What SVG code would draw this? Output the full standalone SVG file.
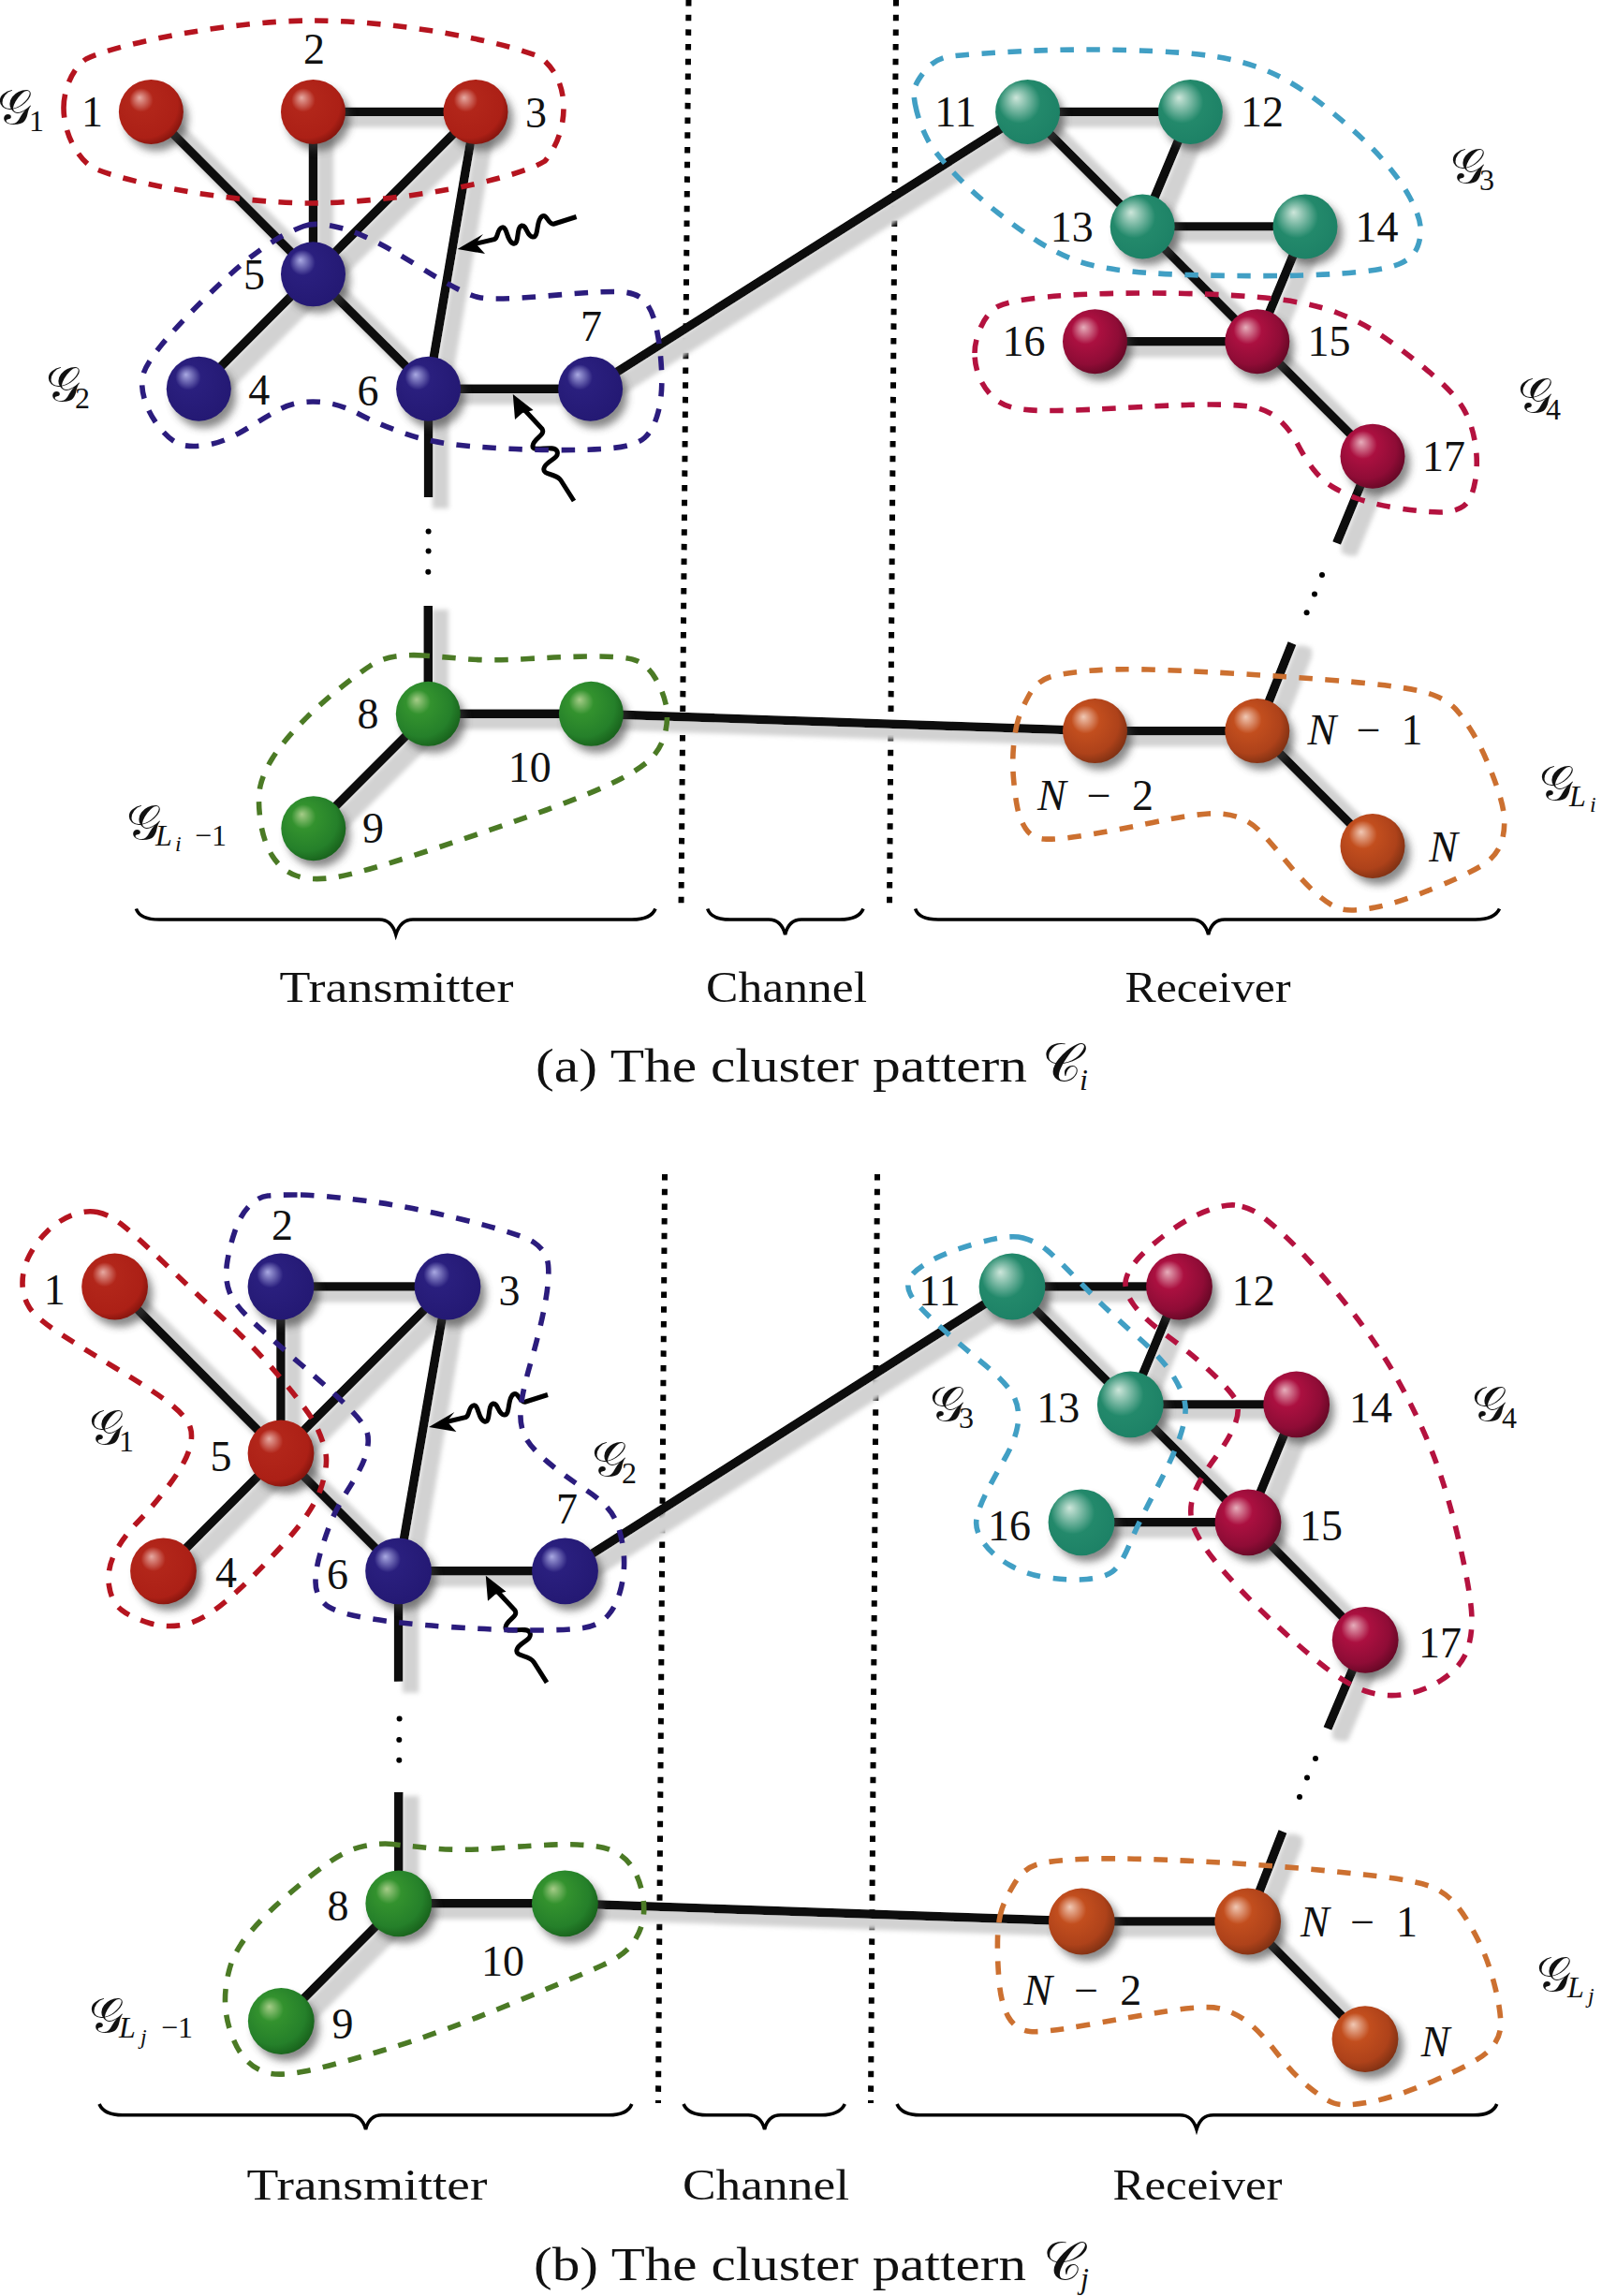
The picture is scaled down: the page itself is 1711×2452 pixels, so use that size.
<svg xmlns="http://www.w3.org/2000/svg" width="1711" height="2452" viewBox="0 0 1711 2452">
<style>
text{font-family:"Liberation Serif","DejaVu Serif",serif;fill:#111}
.n{font-size:46px;text-anchor:middle}
.l{font-size:47px;text-anchor:middle}
.cap{font-size:50px}
.g{font-size:52px;font-family:"DejaVu Sans","Noto Sans",serif}
.cg{font-size:58px;font-family:"DejaVu Sans","Noto Sans",serif}
.s{font-size:32px;font-family:"Liberation Serif",serif}
.ss{font-size:24px;font-style:italic;font-family:"Liberation Serif",serif}
.i{font-style:italic}
.edge line{stroke:#070707;stroke-width:9.4;stroke-linecap:butt}
.dot{stroke:#000;stroke-width:6;stroke-dasharray:6.5 9.2;fill:none}
.cl{fill:none;stroke-width:5.6;stroke-dasharray:14.5 13.5}
.wave{fill:none;stroke:#000;stroke-width:5}
.brace{fill:none;stroke:#000;stroke-width:3.6}
.sh{fill:#3a3a3a;opacity:.6;filter:url(#nsh)}
.d{fill:#000}
.red{fill:url(#gRed)}.navy{fill:url(#gNavy)}.teal{fill:url(#gTeal)}.crim{fill:url(#gCrim)}.green{fill:url(#gGreen)}.orange{fill:url(#gOrange)}
</style>
<defs>
<filter id="nsh" x="-40%" y="-40%" width="180%" height="180%"><feGaussianBlur stdDeviation="4"/></filter>
<filter id="esh" filterUnits="userSpaceOnUse" x="0" y="0" width="1711" height="2452">
<feMorphology in="SourceAlpha" operator="dilate" radius="4"/>
<feOffset dx="13" dy="8"/>
<feGaussianBlur stdDeviation="2.5" result="b"/>
<feFlood flood-color="#d2d2d2"/>
<feComposite in2="b" operator="in"/>
<feMerge><feMergeNode/><feMergeNode in="SourceGraphic"/></feMerge>
</filter>
<radialGradient id="gRed" cx=".42" cy=".42" r=".66" fx=".32" fy=".28"><stop offset="0" stop-color="#e6aaa2"/><stop offset=".28" stop-color="#b2261a"/><stop offset=".78" stop-color="#ac2016"/><stop offset="1" stop-color="#76100a"/></radialGradient>
<radialGradient id="gNavy" cx=".42" cy=".42" r=".66" fx=".3" fy=".28"><stop offset="0" stop-color="#a9a9e2"/><stop offset=".3" stop-color="#2a1f7e"/><stop offset="1" stop-color="#231872"/></radialGradient>
<radialGradient id="gTeal" cx=".42" cy=".42" r=".66" fx=".32" fy=".28"><stop offset="0" stop-color="#cde6da"/><stop offset=".5" stop-color="#23896b"/><stop offset="1" stop-color="#1c8065"/></radialGradient>
<radialGradient id="gCrim" cx=".42" cy=".42" r=".68" fx=".32" fy=".28"><stop offset="0" stop-color="#e6aebb"/><stop offset=".32" stop-color="#ab1040"/><stop offset=".7" stop-color="#8f0c36"/><stop offset="1" stop-color="#56061f"/></radialGradient>
<radialGradient id="gGreen" cx=".42" cy=".42" r=".68" fx=".32" fy=".28"><stop offset="0" stop-color="#a6cc88"/><stop offset=".28" stop-color="#33922e"/><stop offset=".7" stop-color="#25802a"/><stop offset="1" stop-color="#135616"/></radialGradient>
<radialGradient id="gOrange" cx=".42" cy=".42" r=".68" fx=".32" fy=".28"><stop offset="0" stop-color="#f0c8b4"/><stop offset=".32" stop-color="#c24e1e"/><stop offset=".7" stop-color="#ae421a"/><stop offset="1" stop-color="#6e2a10"/></radialGradient>
<g id="w1"><path class="wave" d="M615.6,231.5 L592,239 C585,241 585,228 579,231 C572,235 576,254 569,253 C562,252 563,240 557,241 C551,243 555,262 548,260 C541,258 542,241 536,243 C530,245 533,256 526,256 L505,261"/><polygon class="d" points="488.6,266 516,250 508,260 518,271"/></g>
<g id="w2"><path class="wave" d="M613,535 L599,513 C594,505 579,508 581,500 C583,492 598,490 595,482 C592,474 568,484 569,476 C570,468 583,465 579,458 L553,430"/><polygon class="d" points="547.8,421 569.6,438 558,441 550,448"/></g>
</defs>
<rect width="1711" height="2452" fill="#fff"/>

<g id="separators">
<line class="dot" x1="735.5" y1="0" x2="727.5" y2="969"/>
<line class="dot" x1="957" y1="0" x2="950" y2="969"/>
<line class="dot" x1="710" y1="1254" x2="703" y2="2246"/>
<line class="dot" x1="937" y1="1254" x2="930" y2="2246"/>
</g>

<g id="connectors">
<g class="edge" filter="url(#esh)">
<line x1="161.4" y1="119.4" x2="334.5" y2="292.8"/>
<line x1="334.5" y1="119.4" x2="334.5" y2="292.8"/>
<line x1="508" y1="119.4" x2="334.5" y2="292.8"/>
<line x1="212.3" y1="415.2" x2="334.5" y2="292.8"/>
<line x1="334.5" y1="292.8" x2="457.6" y2="415.2"/>
<line x1="508" y1="119.4" x2="457.6" y2="415.2"/>
<line x1="334.5" y1="119.4" x2="508" y2="119.4"/>
<line x1="457.6" y1="415.2" x2="630.6" y2="415.2"/>
<line x1="630.6" y1="415.2" x2="1097.6" y2="119.4"/>
<line x1="457.6" y1="415.2" x2="457.6" y2="531"/>
<line x1="457.3" y1="647" x2="457.3" y2="762.3"/>
<line x1="457.3" y1="762.3" x2="631.4" y2="762.3"/>
<line x1="457.3" y1="762.3" x2="334.8" y2="884.7"/>
<line x1="631.4" y1="762.3" x2="1169.5" y2="780.6"/>
<line x1="1169.5" y1="780.6" x2="1342.8" y2="780.6"/>
<line x1="1342.8" y1="780.6" x2="1466" y2="903.5"/>
<line x1="1342.8" y1="780.6" x2="1380" y2="687"/>
<line x1="1097.6" y1="119.4" x2="1271.4" y2="119.4"/>
<line x1="1097.6" y1="119.4" x2="1220.2" y2="241.9"/>
<line x1="1271.4" y1="119.4" x2="1220.2" y2="241.9"/>
<line x1="1220.2" y1="241.9" x2="1394" y2="241.9"/>
<line x1="1220.2" y1="241.9" x2="1342.8" y2="364.7"/>
<line x1="1394" y1="241.9" x2="1342.8" y2="364.7"/>
<line x1="1169.5" y1="364.7" x2="1342.8" y2="364.7"/>
<line x1="1342.8" y1="364.7" x2="1466" y2="487.2"/>
<line x1="1466" y1="487.2" x2="1427.7" y2="580"/>

<line x1="122.6" y1="1374" x2="300" y2="1552"/>
<line x1="300" y1="1374" x2="300" y2="1552"/>
<line x1="478" y1="1374" x2="300" y2="1552"/>
<line x1="174.5" y1="1677.8" x2="300" y2="1552"/>
<line x1="300" y1="1552" x2="425.6" y2="1677.8"/>
<line x1="478" y1="1374" x2="425.6" y2="1677.8"/>
<line x1="300" y1="1374" x2="478" y2="1374"/>
<line x1="425.6" y1="1677.8" x2="603.5" y2="1677.8"/>
<line x1="603.5" y1="1677.8" x2="1081" y2="1374"/>
<line x1="425.6" y1="1677.8" x2="425.6" y2="1795.7"/>
<line x1="425.8" y1="1914" x2="425.8" y2="2032.8"/>
<line x1="425.8" y1="2032.8" x2="603.4" y2="2032.8"/>
<line x1="425.8" y1="2032.8" x2="300.3" y2="2158.5"/>
<line x1="603.4" y1="2032.8" x2="1155.3" y2="2052"/>
<line x1="1155.3" y1="2052" x2="1332.7" y2="2052"/>
<line x1="1332.7" y1="2052" x2="1458" y2="2177.6"/>
<line x1="1332.7" y1="2052" x2="1370" y2="1956"/>
<line x1="1081" y1="1374" x2="1259.5" y2="1374"/>
<line x1="1081" y1="1374" x2="1207.3" y2="1499.9"/>
<line x1="1259.5" y1="1374" x2="1207.3" y2="1499.9"/>
<line x1="1207.3" y1="1499.9" x2="1384.7" y2="1499.9"/>
<line x1="1207.3" y1="1499.9" x2="1333" y2="1625.8"/>
<line x1="1384.7" y1="1499.9" x2="1333" y2="1625.8"/>
<line x1="1155" y1="1625.8" x2="1333" y2="1625.8"/>
<line x1="1333" y1="1625.8" x2="1458.2" y2="1751.3"/>
<line x1="1458.2" y1="1751.3" x2="1418" y2="1846"/>
</g>
<use href="#w1"/>
<use href="#w2"/>
<use href="#w1" transform="translate(-30.6,1258)"/>
<use href="#w2" transform="translate(-29,1261.8)"/>
<g id="ellipses">
<circle class="d" cx="457.6" cy="567.5" r="3"/><circle class="d" cx="457.6" cy="588.6" r="3"/><circle class="d" cx="457.3" cy="610.7" r="3"/>
<circle class="d" cx="1412" cy="614" r="3"/><circle class="d" cx="1404" cy="634.4" r="3"/><circle class="d" cx="1395.6" cy="654.3" r="3"/>
<circle class="d" cx="426.6" cy="1835.5" r="3"/><circle class="d" cx="426.3" cy="1858" r="3"/><circle class="d" cx="426.3" cy="1879.8" r="3"/>
<circle class="d" cx="1405" cy="1878" r="3"/><circle class="d" cx="1396" cy="1898.5" r="3"/><circle class="d" cx="1388" cy="1919" r="3"/>
</g>
</g>

<g id="clusters-a">
<path id="a-G1-outline" class="cl" stroke="#b5141f" d="M68,115 C68,95 78,72 92,63 C130,45 250,22 334,22 C420,22 530,42 577,61 C595,75 602,95 602,115 C602,140 592,160 582,172 C550,192 430,216 334,217 C250,217 130,195 97,178 C80,165 68,140 68,115 Z"/>
<path id="a-G2-outline" class="cl" stroke="#2b1c7d" d="M324.5,241.5 Q339,236 368,244.5 Q397,253 445.5,283.5 Q494,314 511,317.5 Q528,321 584,316 Q640,311 659.5,311.5 Q679,312 687.5,320.5 Q696,329 700.5,348 Q705,367 706.5,394 Q708,421 703,440 Q698,459 688.5,467.5 Q679,476 654.5,478.5 Q630,481 586.5,480.5 Q543,480 501.5,476.5 Q460,473 431,462.5 Q402,452 385,443 Q368,434 353.5,431 Q339,428 324.5,429.5 Q310,431 298,437.5 Q286,444 264,457.5 Q242,471 225,474.5 Q208,478 196,475.5 Q184,473 172,458.5 Q160,444 155,428.5 Q150,413 152.5,401.5 Q155,390 172,369 Q189,348 218,319.5 Q247,291 264,277.5 Q281,264 295.5,255.5 Q310,247 324.5,241.5 Z"/>
<path id="a-G3-outline" class="cl" stroke="#419fc4" d="M979,118.5 Q975,103 976.5,95.5 Q978,88 988,75.5 Q998,63 1013.5,60.5 Q1029,58 1086,55 Q1143,52 1202.5,53.5 Q1262,55 1295.5,60 Q1329,65 1357.5,77.5 Q1386,90 1421,118.5 Q1456,147 1475.5,169 Q1495,191 1505.5,210.5 Q1516,230 1517,241.5 Q1518,253 1514,263.5 Q1510,274 1497.5,280.5 Q1485,287 1451,290.5 Q1417,294 1365.5,294.5 Q1314,295 1267.5,293.5 Q1221,292 1192.5,288 Q1164,284 1146,277 Q1128,270 1109.5,258.5 Q1091,247 1065.5,227 Q1040,207 1019,185 Q998,163 990.5,148.5 Q983,134 979,118.5 Z"/>
<path id="a-G4-outline" class="cl" stroke="#b4123f" d="M1041,377 Q1041,364 1048,348.5 Q1055,333 1066.5,327 Q1078,321 1118.5,317 Q1159,313 1226,313 Q1293,313 1345,317.5 Q1397,322 1428,334 Q1459,346 1484.5,364.5 Q1510,383 1532,402 Q1554,421 1563,436.5 Q1572,452 1575.5,473 Q1579,494 1575.5,514 Q1572,534 1563,540.5 Q1554,547 1537.5,547 Q1521,547 1492.5,542.5 Q1464,538 1448.5,532 Q1433,526 1422.5,519.5 Q1412,513 1403,501.5 Q1394,490 1386,474.5 Q1378,459 1366.5,448.5 Q1355,438 1339.5,435 Q1324,432 1293,432 Q1262,432 1210.5,435 Q1159,438 1128,438.5 Q1097,439 1082.5,435.5 Q1068,432 1059,422.5 Q1050,413 1045.5,401.5 Q1041,390 1041,377 Z"/>
<path id="a-G5-outline" class="cl" stroke="#4b7a25" d="M451.5,700 Q437,699 422.5,701 Q408,703 395.5,711 Q383,719 360.5,737 Q338,755 319,775 Q300,795 290.5,810.5 Q281,826 278,839.5 Q275,853 278,875.5 Q281,898 290.5,913.5 Q300,929 316,935 Q332,941 357.5,937 Q383,933 456,909 Q529,885 583.5,865 Q638,845 663.5,831.5 Q689,818 698.5,806.5 Q708,795 711,780 Q714,765 711,751.5 Q708,738 700,724.5 Q692,711 681,706 Q670,701 638,701 Q606,701 564.5,703.5 Q523,706 494.5,703.5 Q466,701 451.5,700 Z"/>
<path id="a-G6-outline" class="cl" stroke="#cc7030" d="M1087.5,768.5 Q1084,780 1082.5,797 Q1081,814 1082.5,831.5 Q1084,849 1086.5,862 Q1089,875 1095.5,885 Q1102,895 1115,896 Q1128,897 1159,892 Q1190,887 1231,878.5 Q1272,870 1290.5,869 Q1309,868 1322,872.5 Q1335,877 1345,887 Q1355,897 1373,919 Q1391,941 1405.5,954 Q1420,967 1431.5,970.5 Q1443,974 1469,969 Q1495,964 1536.5,946.5 Q1578,929 1589.5,919.5 Q1601,910 1604.5,896.5 Q1608,883 1606,868 Q1604,853 1593.5,826 Q1583,799 1572.5,782 Q1562,765 1554.5,757 Q1547,749 1534,743.5 Q1521,738 1495,734 Q1469,730 1417.5,726 Q1366,722 1314,719 Q1262,716 1226,715 Q1190,714 1161.5,716.5 Q1133,719 1120,723.5 Q1107,728 1099,742.5 Q1091,757 1087.5,768.5 Z"/>
</g>
<g id="clusters-b">
<path id="b-G1-outline" class="cl" stroke="#b5141f" d="M104,1294.5 Q92,1292 77.5,1297.5 Q63,1303 51,1314.5 Q39,1326 31.5,1340.5 Q24,1355 24,1370 Q24,1385 31.5,1396.5 Q39,1408 63,1423.5 Q87,1439 123.5,1461 Q160,1483 177,1495.5 Q194,1508 200.5,1518.5 Q207,1529 203,1545 Q199,1561 182,1584 Q165,1607 148,1624.5 Q131,1642 122.5,1659 Q114,1676 116.5,1693.5 Q119,1711 130,1719.5 Q141,1728 160,1733.5 Q179,1739 198.5,1734.5 Q218,1730 242.5,1709 Q267,1688 300.5,1651.5 Q334,1615 342.5,1590 Q351,1565 347.5,1550 Q344,1535 337,1521.5 Q330,1508 303,1475.5 Q276,1443 242,1411.5 Q208,1380 174.5,1348 Q141,1316 128.5,1306.5 Q116,1297 104,1294.5 Z"/>
<path id="b-G2-outline" class="cl" stroke="#2b1c7d" d="M317.5,1276 Q296,1276 286,1277 Q276,1278 266.5,1287.5 Q257,1297 251,1314.5 Q245,1332 242.5,1349 Q240,1366 245,1379.5 Q250,1393 270.5,1412 Q291,1431 322.5,1458 Q354,1485 371,1502 Q388,1519 391.5,1528 Q395,1537 391.5,1551 Q388,1565 373.5,1588 Q359,1611 353,1626.5 Q347,1642 342,1659 Q337,1676 337,1689.5 Q337,1703 346.5,1712.5 Q356,1722 391.5,1728 Q427,1734 480,1737.5 Q533,1741 569.5,1741 Q606,1741 623,1738.5 Q640,1736 649.5,1725 Q659,1714 663.5,1695 Q668,1676 666,1657 Q664,1638 657,1622.5 Q650,1607 625.5,1591 Q601,1575 584,1560.5 Q567,1546 561,1534.5 Q555,1523 556,1506 Q557,1489 567,1454.5 Q577,1420 582,1393 Q587,1366 585.5,1351 Q584,1336 570.5,1327 Q557,1318 496.5,1303 Q436,1288 387.5,1282 Q339,1276 317.5,1276 Z"/>
<path id="b-G3-outline" class="cl" stroke="#419fc4" d="M1092.5,1322 Q1078,1318 1046,1327 Q1014,1336 996,1345.5 Q978,1355 972.5,1363.5 Q967,1372 972.5,1382.5 Q978,1393 1001,1414 Q1024,1435 1047.5,1454 Q1071,1473 1080,1486.5 Q1089,1500 1087.5,1517.5 Q1086,1535 1073,1558 Q1060,1581 1052.5,1596 Q1045,1611 1043,1622.5 Q1041,1634 1050.5,1647.5 Q1060,1661 1078.5,1671.5 Q1097,1682 1120,1685 Q1143,1688 1161,1686.5 Q1179,1685 1188,1678.5 Q1197,1672 1206.5,1649 Q1216,1626 1234,1592 Q1252,1558 1259.5,1536.5 Q1267,1515 1266,1502 Q1265,1489 1253,1469.5 Q1241,1450 1212.5,1425.5 Q1184,1401 1156,1372 Q1128,1343 1117.5,1334.5 Q1107,1326 1092.5,1322 Z"/>
<path id="b-G4-outline" class="cl" stroke="#b4123f" d="M1319,1287 Q1309,1286 1290.5,1292.5 Q1272,1299 1251.5,1313.5 Q1231,1328 1218,1341.5 Q1205,1355 1202.5,1366.5 Q1200,1378 1210.5,1393 Q1221,1408 1246.5,1426.5 Q1272,1445 1293,1465 Q1314,1485 1319.5,1494.5 Q1325,1504 1319.5,1519.5 Q1314,1535 1298.5,1556 Q1283,1577 1276.5,1592 Q1270,1607 1272.5,1622.5 Q1275,1638 1294.5,1663 Q1314,1688 1347.5,1720.5 Q1381,1753 1409.5,1776 Q1438,1799 1458.5,1806 Q1479,1813 1500,1809.5 Q1521,1806 1539,1794.5 Q1557,1783 1564.5,1768 Q1572,1753 1572,1730 Q1572,1707 1559.5,1651.5 Q1547,1596 1531.5,1555.5 Q1516,1515 1492.5,1473 Q1469,1431 1433,1387 Q1397,1343 1373.5,1321 Q1350,1299 1339.5,1293.5 Q1329,1288 1319,1287 Z"/>
<path id="b-G5-outline" class="cl" stroke="#4b7a25" d="M419.5,1969.5 Q407,1968 389,1971.5 Q371,1975 350.5,1989.5 Q330,2004 307.5,2023.5 Q285,2043 268,2062.5 Q251,2082 245.5,2101.5 Q240,2121 240.5,2138.5 Q241,2156 247.5,2173.5 Q254,2191 264,2201 Q274,2211 287,2214 Q300,2217 325.5,2212 Q351,2207 409.5,2189.5 Q468,2172 544.5,2140.5 Q621,2109 644,2098.5 Q667,2088 676,2075 Q685,2062 687,2048.5 Q689,2035 685.5,2019.5 Q682,2004 674.5,1993 Q667,1982 654.5,1976.5 Q642,1971 616.5,1970 Q591,1969 542.5,1973 Q494,1977 463,1974 Q432,1971 419.5,1969.5 Z"/>
<path id="b-G6-outline" class="cl" stroke="#cc7030" d="M1070,2039 Q1066,2051 1065.5,2070.5 Q1065,2090 1067,2115 Q1069,2140 1077,2154 Q1085,2168 1100,2169.5 Q1115,2171 1161,2162.5 Q1207,2154 1248,2147.5 Q1289,2141 1305,2145.5 Q1321,2150 1334.5,2161 Q1348,2172 1364.5,2193.5 Q1381,2215 1397.5,2228.5 Q1414,2242 1424.5,2246 Q1435,2250 1462.5,2245 Q1490,2240 1533,2221.5 Q1576,2203 1588.5,2191.5 Q1601,2180 1602.5,2166 Q1604,2152 1597,2123 Q1590,2094 1578,2070.5 Q1566,2047 1555,2034 Q1544,2021 1527.5,2014.5 Q1511,2008 1457,2002 Q1403,1996 1348.5,1992 Q1294,1988 1240,1986 Q1186,1984 1153,1985.5 Q1120,1987 1106.5,1991.5 Q1093,1996 1083.5,2011.5 Q1074,2027 1070,2039 Z"/>
</g>

<g id="nodes-a">
<g id="a1"><circle class="sh" cx="167" cy="127" r="34"/><circle class="red" cx="161.4" cy="119.4" r="34.5"/><text class="n" x="98.4" y="134.7">1</text></g>
<g id="a2"><circle class="sh" cx="340" cy="127" r="34"/><circle class="red" cx="334.5" cy="119.4" r="34.5"/><text class="n" x="335.4" y="68">2</text></g>
<g id="a3"><circle class="sh" cx="514" cy="127" r="34"/><circle class="red" cx="508" cy="119.4" r="34.5"/><text class="n" x="572.5" y="136">3</text></g>
<g id="a5"><circle class="sh" cx="340" cy="300" r="34"/><circle class="navy" cx="334.5" cy="292.8" r="34.5"/><text class="n" x="271.4" y="309">5</text></g>
<g id="a4"><circle class="sh" cx="218" cy="423" r="34"/><circle class="navy" cx="212.3" cy="415.2" r="34.5"/><text class="n" x="276.8" y="431.7">4</text></g>
<g id="a6"><circle class="sh" cx="463" cy="423" r="34"/><circle class="navy" cx="457.6" cy="415.2" r="34.5"/><text class="n" x="393" y="432.5">6</text></g>
<g id="a7"><circle class="sh" cx="636" cy="423" r="34"/><circle class="navy" cx="630.6" cy="415.2" r="34.5"/><text class="n" x="631.6" y="363.6">7</text></g>
<g id="a8"><circle class="sh" cx="463" cy="770" r="34"/><circle class="green" cx="457.3" cy="762.3" r="34.5"/><text class="n" x="392.9" y="778">8</text></g>
<g id="a10"><circle class="sh" cx="637" cy="770" r="34"/><circle class="green" cx="631.4" cy="762.3" r="34.5"/><text class="n" x="565.7" y="835.4">10</text></g>
<g id="a9"><circle class="sh" cx="340" cy="892" r="34"/><circle class="green" cx="334.8" cy="884.7" r="34.5"/><text class="n" x="398.6" y="900.4">9</text></g>
<g id="a11"><circle class="sh" cx="1103" cy="127" r="34"/><circle class="teal" cx="1097.6" cy="119.4" r="34.5"/><text class="n" x="1020.5" y="134.7">11</text></g>
<g id="a12"><circle class="sh" cx="1277" cy="127" r="34"/><circle class="teal" cx="1271.4" cy="119.4" r="34.5"/><text class="n" x="1348" y="134.7">12</text></g>
<g id="a13"><circle class="sh" cx="1226" cy="249" r="34"/><circle class="teal" cx="1220.2" cy="241.9" r="34.5"/><text class="n" x="1144.7" y="257.6">13</text></g>
<g id="a14"><circle class="sh" cx="1400" cy="249" r="34"/><circle class="teal" cx="1394" cy="241.9" r="34.5"/><text class="n" x="1470.6" y="257.6">14</text></g>
<g id="a16"><circle class="sh" cx="1175" cy="372" r="34"/><circle class="crim" cx="1169.5" cy="364.7" r="34.5"/><text class="n" x="1093.5" y="380">16</text></g>
<g id="a15"><circle class="sh" cx="1348" cy="372" r="34"/><circle class="crim" cx="1342.8" cy="364.7" r="34.5"/><text class="n" x="1419.4" y="380">15</text></g>
<g id="a17"><circle class="sh" cx="1472" cy="495" r="34"/><circle class="crim" cx="1466" cy="487.2" r="34.5"/><text class="n" x="1542" y="502.5">17</text></g>
<g id="aN2"><circle class="sh" cx="1175" cy="788" r="34"/><circle class="orange" cx="1169.5" cy="780.6" r="34.5"/><text class="n" x="1170" y="864.8" textLength="124"><tspan class="i">N</tspan> − 2</text></g>
<g id="aN1"><circle class="sh" cx="1348" cy="788" r="34"/><circle class="orange" cx="1342.8" cy="780.6" r="34.5"/><text class="n" x="1458" y="795" textLength="123"><tspan class="i">N</tspan> − 1</text></g>
<g id="aN"><circle class="sh" cx="1472" cy="911" r="34"/><circle class="orange" cx="1466" cy="903.5" r="34.5"/><text class="n i" x="1541.5" y="919.6">N</text></g>
</g>

<g id="nodes-b">
<g id="b1"><circle class="sh" cx="128" cy="1382" r="35"/><circle class="red" cx="122.6" cy="1374" r="35.4"/><text class="n" x="58.2" y="1393">1</text></g>
<g id="b2"><circle class="sh" cx="306" cy="1382" r="35"/><circle class="navy" cx="300" cy="1374" r="35.4"/><text class="n" x="301.5" y="1324">2</text></g>
<g id="b3"><circle class="sh" cx="484" cy="1382" r="35"/><circle class="navy" cx="478" cy="1374" r="35.4"/><text class="n" x="544" y="1394">3</text></g>
<g id="b4"><circle class="sh" cx="180" cy="1685" r="35"/><circle class="red" cx="174.5" cy="1677.8" r="35.4"/><text class="n" x="241.4" y="1695.4">4</text></g>
<g id="b5"><circle class="sh" cx="306" cy="1560" r="35"/><circle class="red" cx="300" cy="1552" r="35.4"/><text class="n" x="236" y="1571">5</text></g>
<g id="b6"><circle class="sh" cx="431" cy="1685" r="35"/><circle class="navy" cx="425.6" cy="1677.8" r="35.4"/><text class="n" x="360.6" y="1696.6">6</text></g>
<g id="b7"><circle class="sh" cx="609" cy="1685" r="35"/><circle class="navy" cx="603.5" cy="1677.8" r="35.4"/><text class="n" x="605.4" y="1626.5">7</text></g>
<g id="b8"><circle class="sh" cx="431" cy="2040" r="35"/><circle class="green" cx="425.8" cy="2032.8" r="35.4"/><text class="n" x="361" y="2051">8</text></g>
<g id="b10"><circle class="sh" cx="609" cy="2040" r="35"/><circle class="green" cx="603.4" cy="2032.8" r="35.4"/><text class="n" x="537" y="2110">10</text></g>
<g id="b9"><circle class="sh" cx="306" cy="2166" r="35"/><circle class="green" cx="300.3" cy="2158.5" r="35.4"/><text class="n" x="366" y="2177">9</text></g>
<g id="b11"><circle class="sh" cx="1087" cy="1382" r="35"/><circle class="teal" cx="1081" cy="1374" r="35.4"/><text class="n" x="1003.5" y="1393.8">11</text></g>
<g id="b12"><circle class="sh" cx="1265" cy="1382" r="35"/><circle class="crim" cx="1259.5" cy="1374" r="35.4"/><text class="n" x="1338.7" y="1393.8">12</text></g>
<g id="b13"><circle class="sh" cx="1213" cy="1507" r="35"/><circle class="teal" cx="1207.3" cy="1499.9" r="35.4"/><text class="n" x="1130.2" y="1518.6">13</text></g>
<g id="b14"><circle class="sh" cx="1390" cy="1507" r="35"/><circle class="crim" cx="1384.7" cy="1499.9" r="35.4"/><text class="n" x="1463.9" y="1518.6">14</text></g>
<g id="b16"><circle class="sh" cx="1161" cy="1633" r="35"/><circle class="teal" cx="1155" cy="1625.8" r="35.4"/><text class="n" x="1078" y="1645">16</text></g>
<g id="b15"><circle class="sh" cx="1339" cy="1633" r="35"/><circle class="crim" cx="1333" cy="1625.8" r="35.4"/><text class="n" x="1411" y="1645">15</text></g>
<g id="b17"><circle class="sh" cx="1464" cy="1759" r="35"/><circle class="crim" cx="1458.2" cy="1751.3" r="35.4"/><text class="n" x="1537.9" y="1770">17</text></g>
<g id="bN2"><circle class="sh" cx="1161" cy="2059" r="35"/><circle class="orange" cx="1155.3" cy="2052" r="35.4"/><text class="n" x="1156.3" y="2140.5" textLength="126"><tspan class="i">N</tspan> − 2</text></g>
<g id="bN1"><circle class="sh" cx="1338" cy="2059" r="35"/><circle class="orange" cx="1332.7" cy="2052" r="35.4"/><text class="n" x="1451.5" y="2068.3" textLength="125"><tspan class="i">N</tspan> − 1</text></g>
<g id="bN"><circle class="sh" cx="1464" cy="2185" r="35"/><circle class="orange" cx="1458" cy="2177.6" r="35.4"/><text class="n i" x="1533" y="2196">N</text></g>
</g>

<g id="group-labels">
<text class="g" x="-3" y="132">𝒢<tspan class="s" x="31" y="140">1</tspan></text>
<text class="g" x="49" y="428">𝒢<tspan class="s" x="80" y="436">2</tspan></text>
<text class="g" x="1549" y="195">𝒢<tspan class="s" x="1580" y="203">3</tspan></text>
<text class="g" x="1621" y="440">𝒢<tspan class="s" x="1651" y="448">4</tspan></text>
<text class="g" x="135" y="896">𝒢<tspan class="s i" x="166" y="903">L</tspan><tspan class="ss" x="187" y="909">i</tspan><tspan class="s" x="208" y="903">−1</tspan></text>
<text class="g" x="1644" y="854">𝒢<tspan class="s i" x="1676" y="861">L</tspan><tspan class="ss" x="1698" y="867">i</tspan></text>
<text class="g" x="95" y="1542">𝒢<tspan class="s" x="127" y="1550">1</tspan></text>
<text class="g" x="632" y="1576">𝒢<tspan class="s" x="664" y="1584">2</tspan></text>
<text class="g" x="993" y="1517">𝒢<tspan class="s" x="1024" y="1525">3</tspan></text>
<text class="g" x="1572" y="1517">𝒢<tspan class="s" x="1604" y="1525">4</tspan></text>
<text class="g" x="95" y="2170">𝒢<tspan class="s i" x="127" y="2176">L</tspan><tspan class="ss" x="150" y="2183">j</tspan><tspan class="s" x="172" y="2176">−1</tspan></text>
<text class="g" x="1641" y="2126">𝒢<tspan class="s i" x="1674" y="2133">L</tspan><tspan class="ss" x="1696" y="2139">j</tspan></text>
</g>

<g id="braces">
<path class="brace" d="M145.4,970.5 C148,978 155,982 170,982 L405,982 C415,982 420,988 422.8,998 C426,988 431,982 441,982 L675,982 C690,982 697,978 700,970.5"/>
<path class="brace" d="M755.7,970.5 C758,978 765,982 780,982 L821,982 C831,982 836,988 838.6,998 C841,988 846,982 856,982 L897,982 C912,982 919,978 922,970.5"/>
<path class="brace" d="M977.6,970.5 C980,978 987,982 1002,982 L1273,982 C1283,982 1288,988 1290.6,998 C1293,988 1298,982 1308,982 L1576,982 C1591,982 1598,978 1601.5,970.5"/>
<path class="brace" d="M106,2247 C109,2254 116,2258.8 131,2258.8 L373,2258.8 C383,2258.8 388,2264 390.6,2274 C393,2264 398,2258.8 408,2258.8 L650,2258.8 C665,2258.8 672,2254 674.8,2247"/>
<path class="brace" d="M730,2247 C733,2254 740,2258.8 755,2258.8 L799,2258.8 C809,2258.8 814,2264 816.6,2274 C819,2264 824,2258.8 834,2258.8 L877,2258.8 C892,2258.8 899,2254 902.3,2247"/>
<path class="brace" d="M958,2247 C961,2254 968,2258.8 983,2258.8 L1260,2258.8 C1270,2258.8 1275,2264 1278,2274 C1281,2264 1286,2258.8 1296,2258.8 L1574,2258.8 C1589,2258.8 1596,2254 1598.7,2247"/>
</g>
<g id="section-labels">
<text class="l" x="423.5" y="1070" textLength="250" lengthAdjust="spacingAndGlyphs">Transmitter</text>
<text class="l" x="840" y="1070" textLength="172" lengthAdjust="spacingAndGlyphs">Channel</text>
<text class="l" x="1290" y="1070" textLength="177" lengthAdjust="spacingAndGlyphs">Receiver</text>
<text class="l" x="392" y="2349.4" textLength="257" lengthAdjust="spacingAndGlyphs">Transmitter</text>
<text class="l" x="818" y="2349.4" textLength="178" lengthAdjust="spacingAndGlyphs">Channel</text>
<text class="l" x="1279" y="2349.4" textLength="181" lengthAdjust="spacingAndGlyphs">Receiver</text>
</g>
<g id="captions">
<text class="cap" x="572" y="1155" textLength="525" lengthAdjust="spacingAndGlyphs">(a) The cluster pattern</text>
<text class="cg" x="1113" y="1155">𝒞<tspan class="s i" x="1153" y="1164">i</tspan></text>
<text class="cap" x="570" y="2435" textLength="526" lengthAdjust="spacingAndGlyphs">(b) The cluster pattern</text>
<text class="cg" x="1114" y="2435">𝒞<tspan class="s i" x="1154" y="2444">j</tspan></text>
</g>
</svg>
